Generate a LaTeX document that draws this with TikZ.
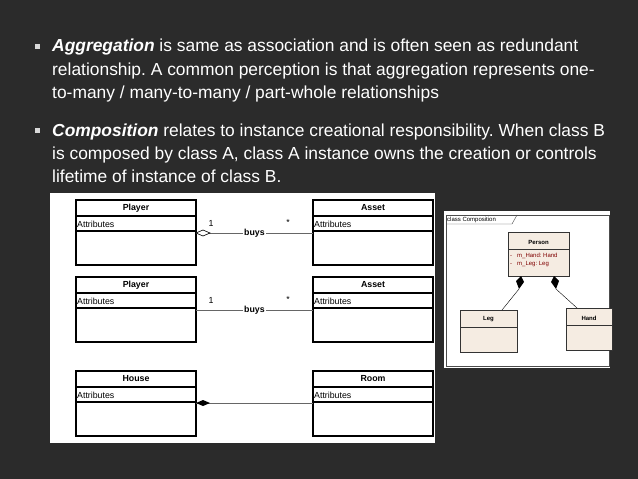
\documentclass[tikz,border=0pt]{standalone}
\usepackage{fontspec}
\setmainfont{Liberation Sans}
\frenchspacing
\begin{document}
\begin{tikzpicture}[x=1pt,y=-1pt,
  txt/.style={anchor=base west,text=white,font=\fontsize{17.4}{20}\selectfont,inner sep=0},
  bul/.style={fill=white!85!black,minimum size=5pt,inner sep=0},
  umlbox/.style={draw=black,line width=1.3pt},
  utxt/.style={font=\fontsize{8.8}{10}\selectfont,inner sep=0},
  ubold/.style={font=\bfseries\fontsize{8.8}{10}\selectfont,inner sep=0,text=black},
  ebox/.style={draw=black!80,fill=brown!15!white,line width=0.4pt},
  etxt/.style={font=\fontsize{6}{7}\selectfont,inner sep=0},
  ebold/.style={font=\bfseries\fontsize{6}{7}\selectfont,inner sep=0}]
\useasboundingbox (0,0) rectangle (638,479);
\fill[black!83] (0,0) rectangle (638,479);
% bullets
\node[bul] (b1) at (37,46) {};
\node[bul] (b2) at (37,130) {};
\node[txt] (t1) at (52,52) {\textbf{\textit{Aggregation}} is same as association and is often seen as redundant};
\node[txt] (t2) at (52,75) {relationship. A common perception is that aggregation represents one-};
\node[txt] (t3) at (52,98) {to-many / many-to-many / part-whole relationships};
\node[txt] (t4) at (52,136) {\textbf{\textit{Composition}} relates to instance creational responsibility. When class B};
\node[txt] (t5) at (52,159) {is composed by class A, class A instance owns the creation or controls};
\node[txt] (t6) at (52,182) {lifetime of instance of class B.};
% left panel
\fill[white] (50,193) rectangle (435,443);
\foreach \yy/\l/\r in {200/Player/Asset,277/Player/Asset,371/House/Room}{
  \pgfmathsetmacro{\ya}{\yy+16}\pgfmathsetmacro{\yb}{\yy+31}\pgfmathsetmacro{\yc}{\yy+65}
  \draw[umlbox] (76,\yy) rectangle (196,\yc);
  \draw[umlbox] (76,\ya) -- (196,\ya) (76,\yb) -- (196,\yb);
  \draw[umlbox] (313,\yy) rectangle (433,\yc);
  \draw[umlbox] (313,\ya) -- (433,\ya) (313,\yb) -- (433,\yb);
  \node[ubold] at (136,\yy+8) {\l};
  \node[ubold] at (373,\yy+8) {\r};
  \node[utxt,anchor=west] at (77,\yy+24) {Attributes};
  \node[utxt,anchor=west] at (314,\yy+24) {Attributes};
}
\coordinate (pa) at (196,233); \coordinate (aa) at (313,233);
\coordinate (pb) at (196,310); \coordinate (ab) at (313,310);
\coordinate (ph) at (196,403); \coordinate (rh) at (313,403);
\draw[black!60,line width=0.8pt] (pa) -- node[fill=white,ubold,inner sep=1pt]{buys} (aa);
\draw[black,line width=0.6pt,fill=white] (196,233) -- (203,230) -- (210,233) -- (203,236) -- cycle;
\draw[black!60,line width=0.8pt] (pb) -- node[fill=white,ubold,inner sep=1pt]{buys} (ab);
\draw[black!60,line width=0.8pt] (ph) -- (rh);
\fill[black] (196,403) -- (203,400) -- (210,403) -- (203,406) -- cycle;
\node[utxt] at (211,223) {1}; \node[utxt] at (288,222) {*};
\node[utxt] at (211,300) {1}; \node[utxt] at (288,299) {*};
% right panel
\fill[white] (444,211) rectangle (610,368);
\draw[black!70,line width=0.4pt] (446,215) rectangle (609,366);
\draw[black!70,line width=0.4pt] (446,224) -- (512,224) -- (517,215);
\node[etxt,anchor=west] at (447,219.5) {class Composition};
\draw[ebox] (508,232) rectangle (569,276); \draw[black!80] (508,249)--(569,249);
\node[ebold] at (538.5,242) {Person};
\node[etxt,anchor=west,text=red!50!black] at (510,256) {-\ \ \ m\_Hand:\ Hand};
\node[etxt,anchor=west,text=red!50!black] at (510,264) {-\ \ \ m\_Leg:\ Leg};
\draw[ebox] (460,310) rectangle (517,352); \draw[black!80] (460,327)--(517,327);
\node[ebold] at (488.5,319) {Leg};
\draw[ebox] (566,308) rectangle (612,350); \draw[black!80] (566,325)--(612,325);
\node[ebold] at (589,318) {Hand};
\draw[black,line width=0.4pt] (519,289) -- (502,310);
\draw[black,line width=0.4pt] (556,289) -- (577,308);
\fill[black] (521,276) -- (524,282) -- (519,289) -- (516,281) -- cycle;
\fill[black] (554,276) -- (559,281) -- (556,289) -- (551,282) -- cycle;
\end{tikzpicture}
\end{document}
